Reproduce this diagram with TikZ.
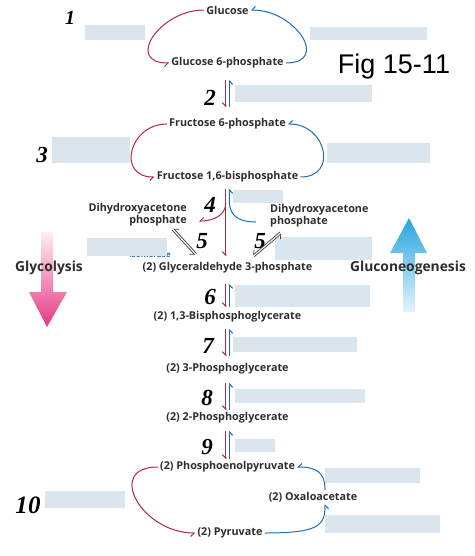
\documentclass[tikz,border=0pt]{standalone}
\usepackage{fontspec}
\setmainfont{Open Sans}
\newfontfamily\numfont{Liberation Serif}
\newfontfamily\figfont{Liberation Sans}
\usetikzlibrary{arrows.meta}
\definecolor{glyred}{HTML}{B3283D}
\definecolor{neoblue}{HTML}{1F6EAD}
\definecolor{txt}{HTML}{2E2E2E}
\definecolor{blank}{HTML}{DAE5EE}
\definecolor{eqgray}{HTML}{3C3C3C}
\begin{document}
\begin{tikzpicture}[x=1pt,y=-1pt,
	met/.style={font=\bfseries\fontsize{10.8}{12}\selectfont,text=txt,inner sep=2pt},
	num/.style={font=\numfont\bfseries\itshape\fontsize{23}{23}\selectfont,text=black},
	tip/.style={-{Straight Barb[harpoon,swap,length=3.5pt,width=7pt]}},
	fwd/.style={glyred,line width=1pt,tip},
	bwd/.style={neoblue,line width=1pt,tip},
	eq/.style={eqgray,line width=0.7pt,tip}]
	\useasboundingbox (0,0) rectangle (474,556);
	% blank label boxes
	\fill[blank] (85,25) rectangle (145,40);
	\fill[blank] (310,27) rectangle (427,40);
	\fill[blank] (235,85) rectangle (372,102);
	\fill[blank] (52,137) rectangle (130,163);
	\fill[blank] (327,143) rectangle (430,163);
	\fill[blank] (233,190) rectangle (283,203);
	\node[font=\bfseries\fontsize{8}{9}\selectfont,text=neoblue] (iso) at (150,254) {isomerase};
	\fill[blank] (87,238) rectangle (167,255.5);
	\fill[blank] (275,237) rectangle (372,260);
	\fill[blank] (235,285) rectangle (370,307);
	\fill[blank] (233,337) rectangle (357,352);
	\fill[blank] (235,389) rectangle (365,403);
	\fill[blank] (235,439) rectangle (275,452);
	\fill[blank] (325,468) rectangle (420,483);
	\fill[blank] (45,491) rectangle (125,508);
	\fill[blank] (325,515) rectangle (440,533);
	% pathway direction arrows
	\shade[top color=pink!25,bottom color={rgb,255:red,230;green,55;blue,135}]
		(41,232)--(53,232)--(53,292)--(67,292)--(47,327)--(29,292)--(41,292)--cycle;
	\shade[bottom color={rgb,255:red,228;green,244;blue,251},top color={rgb,255:red,38;green,166;blue,223}]
		(403,312)--(415,312)--(415,253)--(427,253)--(409,218)--(390,253)--(403,253)--cycle;
	\node[font=\bfseries\fontsize{13.8}{14}\selectfont,text=txt] (glyc) at (49,268) {Glycolysis};
	\node[font=\bfseries\fontsize{13.8}{14}\selectfont,text=txt] (gneo) at (408,268) {Gluconeogenesis};
	\node[font=\figfont\fontsize{27}{27}\selectfont] (fig) at (394,67) {Fig 15-11};
	% metabolites
	\node[met] (glc) at (227.5,10) {Glucose};
	\node[met] (g6p) at (227.5,63) {Glucose 6-phosphate};
	\node[met] (f6p) at (227.5,124) {Fructose 6-phosphate};
	\node[met] (fbp) at (227.5,177) {Fructose 1,6-bisphosphate};
	\node[met,align=right,anchor=east] (dhapl) at (189,214.5) {Dihydroxyacetone\\phosphate};
	\node[met,align=left,anchor=west] (dhapr) at (268,216) {Dihydroxyacetone\\phosphate};
	\node[met] (gap) at (227.5,268) {(2) Glyceraldehyde 3-phosphate};
	\node[met] (bpg) at (227.5,317) {(2) 1,3-Bisphosphoglycerate};
	\node[met] (pg3) at (227.5,369) {(2) 3-Phosphoglycerate};
	\node[met] (pg2) at (227.5,418) {(2) 2-Phosphoglycerate};
	\node[met] (pep) at (227.5,467) {(2) Phosphoenolpyruvate};
	\node[met] (oxa) at (313,497) {(2) Oxaloacetate};
	\node[met] (pyr) at (230,533) {(2) Pyruvate};
	% step numbers
	\node[num,font=\numfont\bfseries\itshape\fontsize{20}{20}\selectfont] (n1) at (70,18) {1};
	\node[num] (n2) at (210,98) {2};
	\node[num] (n3) at (42,155) {3};
	\node[num] (n4) at (210,205) {4};
	\node[num] (n5a) at (202,241) {5};
	\node[num] (n5b) at (260,241) {5};
	\node[num] (n6) at (210,297) {6};
	\node[num] (n7) at (208,346) {7};
	\node[num] (n8) at (207,398) {8};
	\node[num] (n9) at (207,447) {9};
	\node[num,font=\numfont\bfseries\itshape\fontsize{25}{25}\selectfont] (n10) at (28,505) {10};
	% bypass loops
	\draw[fwd] (glc.west) to[out=180,in=180,looseness=1.8] (g6p.west);
	\draw[bwd] (g6p.east) to[out=0,in=0,looseness=1.8] (glc.east);
	\draw[fwd] (f6p.west) to[out=180,in=180,looseness=1.8] (fbp.west);
	\draw[bwd] (fbp.east) to[out=0,in=0,looseness=1.8] (f6p.east);
	\draw[fwd] (pep.west) to[out=180,in=180,looseness=1.8] (pyr.west);
	\draw[bwd] (pyr.east) .. controls (318,533) and (325,526) .. ([xshift=12pt]oxa.south);
	\draw[bwd] ([xshift=12pt]oxa.north) .. controls (325,472) and (316,467) .. (pep.east);
	% reversible steps
	\draw[fwd,shorten <=9pt,shorten >=9pt] ([xshift=-1.75pt]g6p.south) -- ([xshift=-1.75pt]f6p.north);
	\draw[bwd,shorten <=9pt,shorten >=9pt] ([xshift=1.75pt]f6p.north) -- ([xshift=1.75pt]g6p.south);
	\draw[fwd,shorten <=4pt,shorten >=4pt] ([xshift=-1.75pt]fbp.south) -- ([xshift=-1.75pt]gap.north);
	\coordinate (split) at (225.75,203);
	\coordinate (dl) at (199,221);
	\coordinate (dr) at (256,222);
	\draw[fwd] (split) .. controls (225.75,215) and (214,221) .. (dl);
	\draw[bwd,shorten >=4pt] (dr) .. controls (236,222) and (229.25,214) .. (229.25,200) -- ([xshift=1.75pt]fbp.south);
	\coordinate (l5a) at (172,230);
	\coordinate (l5b) at (195,255);
	\coordinate (r5a) at (280,232);
	\coordinate (r5b) at (253,255);
	\draw[eq] (l5a) -- (l5b);
	\draw[eq] ([shift={(1.6,-1.5)}]l5b) -- ([shift={(1.6,-1.5)}]l5a);
	\draw[eq] (r5a) -- (r5b);
	\draw[eq] ([shift={(1.4,1.6)}]r5b) -- ([shift={(1.4,1.6)}]r5a);
	\draw[fwd,shorten <=8pt,shorten >=2pt] ([xshift=-1.75pt]gap.south) -- ([xshift=-1.75pt]bpg.north);
	\draw[bwd,shorten <=2pt,shorten >=8pt] ([xshift=1.75pt]bpg.north) -- ([xshift=1.75pt]gap.south);
	\draw[fwd,shorten <=4pt,shorten >=5pt] ([xshift=-1.75pt]bpg.south) -- ([xshift=-1.75pt]pg3.north);
	\draw[bwd,shorten <=5pt,shorten >=4pt] ([xshift=1.75pt]pg3.north) -- ([xshift=1.75pt]bpg.south);
	\draw[fwd,shorten <=6pt,shorten >=0pt] ([xshift=-1.75pt]pg3.south) -- ([xshift=-1.75pt]pg2.north);
	\draw[bwd,shorten <=0pt,shorten >=6pt] ([xshift=1.75pt]pg2.north) -- ([xshift=1.75pt]pg3.south);
	\draw[fwd,shorten <=5pt,shorten >=0pt] ([xshift=-1.75pt]pg2.south) -- ([xshift=-1.75pt]pep.north);
	\draw[bwd,shorten <=0pt,shorten >=5pt] ([xshift=1.75pt]pep.north) -- ([xshift=1.75pt]pg2.south);
\end{tikzpicture}
\end{document}
